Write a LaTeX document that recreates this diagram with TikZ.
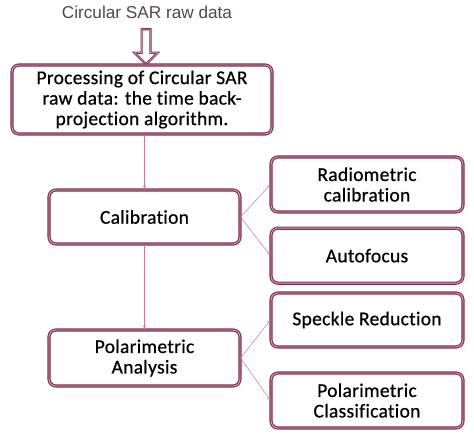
\documentclass[tikz,border=0pt]{standalone}
\usepackage{fontspec}
\setmainfont{Carlito}
\newfontfamily\boxfont{Carlito}[FakeBold=0.6,LetterSpace=1.5,Ligatures=NoCommon]
\newfontfamily\labelfont{Liberation Sans}
\usepackage{tikz}
\usetikzlibrary{positioning,shapes.arrows,arrows.meta}

\definecolor{boxrim}{HTML}{7D2E4E}
\definecolor{boxinner}{HTML}{D8A5B8}
\definecolor{linkcol}{HTML}{C77C99}
\definecolor{labelcol}{HTML}{54444F}

\tikzset{
  box/.style={draw=boxrim, double=boxinner, double distance=0.9pt, line width=1.15pt,
    rounded corners=7pt, fill=white, align=center, font=\boxfont\fontsize{19.5}{20.5}\selectfont,
    inner sep=2pt},
  link/.style={draw=linkcol, line width=0.5pt, -{To[length=4pt,width=4pt]}},
}

\begin{document}
\begin{tikzpicture}[x=1pt,y=-1pt]
		  \useasboundingbox (0,0) rectangle (474,444);
		  \node[font=\labelfont\fontsize{17.2}{19}\selectfont, text=labelcol] (raw) at (147,12) {Circular SAR raw data} ; %
		  \node[single arrow, draw=boxrim, double=boxinner, double distance=0.6pt, line width=0.8pt, fill=white,
		    shape border rotate=270, minimum height=35pt, minimum width=22pt, inner sep=4pt,
		    single arrow head extend=7pt] (feed) at (146,44.5) {} ; %
		  \node[box, minimum width=260pt, minimum height=69pt] (proc) at (142,99.5)
		    {Processing of Circular SAR\\raw data: the time back-\\projection algorithm.} ; %
		  \node[box, minimum width=191pt, minimum height=54pt] (calib) at (144.5,217) {Calibration} ; %
		  \node[box, minimum width=191pt, minimum height=56pt] (polan) at (144.5,358) {Polarimetric\\Analysis} ; %
		  \node[box, minimum width=192pt, minimum height=55pt] (radio) at (367,184.5) {Radiometric\\calibration} ; %
		  \node[box, minimum width=192pt, minimum height=55pt, below=15pt of radio] (autof) {Autofocus} ; %
		  \node[box, minimum width=192pt, minimum height=54pt] (speck) at (367,320) {Speckle Reduction} ; %
		  \node[box, minimum width=192pt, minimum height=55pt] (polcl) at (367,400.5) {Polarimetric\\Classification} ; %

		  \draw[link] (calib.north |- proc.south) -- (calib.north) ;
		  \draw[link] (calib) -- (polan) ;
		  \draw[link] (calib.east) -- (radio.west) ;
		  \draw[link] (calib.east) -- (autof.west) ;
		  \draw[link] (polan.east) -- (speck.west) ;
		  \draw[link] (polan.east) -- (polcl.west) ;
		\end{tikzpicture}
\end{document}
